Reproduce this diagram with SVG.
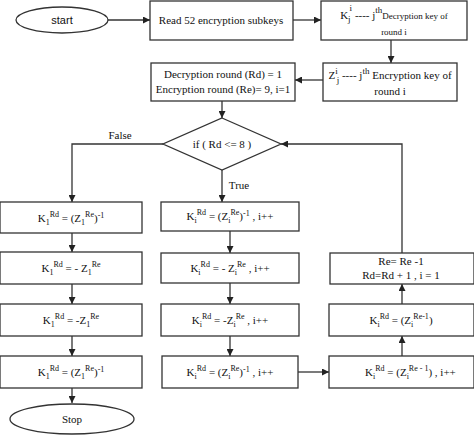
<svg xmlns="http://www.w3.org/2000/svg" width="474" height="435" viewBox="0 0 474 435">
<defs>
<marker id="ah" viewBox="0 0 10 10" refX="10" refY="5" markerWidth="7" markerHeight="7" markerUnits="userSpaceOnUse" orient="auto">
<path d="M0,0 L10,5 L0,10 z" fill="#222"/>
</marker>
<style>
.b{fill:#fff;stroke:#333;stroke-width:1.3}
.c{fill:none;stroke:#333;stroke-width:1.3}
.a{marker-end:url(#ah)}
text{font-family:"Liberation Serif","Times New Roman",serif;font-size:11px;fill:#111;text-anchor:middle}
.sans{font-family:"Liberation Sans",Arial,sans-serif}
.s{font-size:8px}
.sm{font-size:9px}
.st{text-anchor:start}
</style>
</defs>
<rect width="474" height="435" fill="#fff"/>

<g id="connectors">
<line class="c a" x1="108" y1="20" x2="150" y2="20"/>
<line class="c a" x1="293" y1="20" x2="321" y2="20"/>
<line class="c a" x1="391" y1="40" x2="391" y2="63"/>
<line class="c a" x1="323" y1="80" x2="295" y2="80"/>
<line class="c a" x1="222" y1="101" x2="222" y2="118"/>
<polyline class="c a" points="163,144 72,144 72,202"/>
<line class="c a" x1="222" y1="170" x2="222" y2="202"/>
<polyline class="c a" points="402,253 402,144 281,144"/>
<line class="c a" x1="72" y1="233" x2="72" y2="252"/>
<line class="c a" x1="72" y1="284" x2="72" y2="304"/>
<line class="c a" x1="72" y1="336" x2="72" y2="356"/>
<line class="c a" x1="72" y1="388" x2="72" y2="403"/>
<line class="c a" x1="230" y1="231" x2="230" y2="253"/>
<line class="c a" x1="230" y1="283" x2="230" y2="304"/>
<line class="c a" x1="230" y1="336" x2="230" y2="356"/>
<line class="c a" x1="298" y1="372" x2="329" y2="372"/>
<line class="c a" x1="402" y1="356" x2="402" y2="336"/>
<line class="c a" x1="402" y1="304" x2="402" y2="284"/>
<text x="120" y="139">False</text>
<text x="239" y="189">True</text>
</g>

<g id="start">
<ellipse class="b" cx="62" cy="20" rx="46" ry="13"/>
<text class="sans" x="62" y="24">start</text>
</g>

<g id="read">
<rect class="b" x="150" y="1" width="143" height="39"/>
<text x="221" y="24">Read 52  encryption subkeys</text>
</g>

<g id="kdef">
<rect class="b" x="321" y="1" width="146" height="39"/>
<text x="394" y="19">K<tspan class="sm" dy="3">j</tspan><tspan class="sm" dx="-1" dy="-11">i</tspan><tspan dy="8">  ----  j</tspan><tspan class="sm" dy="-6">th</tspan><tspan class="sm" dy="6">Decryption key of</tspan></text>
<text class="sm" x="394" y="35">round i</text>
</g>

<g id="zdef">
<rect class="b" x="323" y="63" width="134" height="38"/>
<text x="390" y="79">Z<tspan class="sm" dy="-5">i</tspan><tspan class="sm" dx="-1" dy="9">j</tspan><tspan dy="-4">  ---- j</tspan><tspan class="sm" dy="-5">th</tspan><tspan dy="5"> Encryption key of</tspan></text>
<text x="390" y="95">round i</text>
</g>

<g id="init">
<rect class="b" x="151" y="63" width="144" height="38"/>
<text x="223" y="78">Decryption round (Rd) = 1</text>
<text x="223" y="93">Encryption round (Re)= 9, i=1</text>
</g>

<g id="cond">
<polygon class="b" points="222,118 281,144 222,170 163,144"/>
<text x="222" y="148">if ( Rd &lt;= 8 )</text>
</g>

<g id="l1">
<rect class="b" x="0" y="202" width="142" height="31"/>
<text x="71" y="222">K<tspan class="s" dy="3">1</tspan><tspan class="s" dy="-8">Rd</tspan><tspan dy="5"> = (Z</tspan><tspan class="s" dy="3">1</tspan><tspan class="s" dy="-8">Re</tspan><tspan dy="5">)</tspan><tspan class="s" dy="-4">-1</tspan></text>
</g>
<g id="l2">
<rect class="b" x="0" y="252" width="142" height="32"/>
<text x="71" y="272">K<tspan class="s" dy="3">1</tspan><tspan class="s" dy="-8">Rd</tspan><tspan dy="5"> = - Z</tspan><tspan class="s" dy="3">1</tspan><tspan class="s" dy="-8">Re</tspan></text>
</g>
<g id="l3">
<rect class="b" x="0" y="304" width="142" height="32"/>
<text x="71" y="324">K<tspan class="s" dy="3">1</tspan><tspan class="s" dy="-8">Rd</tspan><tspan dy="5"> = -Z</tspan><tspan class="s" dy="3">1</tspan><tspan class="s" dy="-8">Re</tspan></text>
</g>
<g id="l4">
<rect class="b" x="0" y="356" width="142" height="32"/>
<text x="71" y="376">K<tspan class="s" dy="3">1</tspan><tspan class="s" dy="-8">Rd</tspan><tspan dy="5"> = (Z</tspan><tspan class="s" dy="3">1</tspan><tspan class="s" dy="-8">Re</tspan><tspan dy="5">)</tspan><tspan class="s" dy="-4">-1</tspan></text>
</g>
<g id="stop">
<ellipse class="b" cx="72" cy="419" rx="62" ry="15"/>
<text x="72" y="423">Stop</text>
</g>

<g id="m1">
<rect class="b" x="161" y="202" width="138" height="29"/>
<text x="230" y="220">K<tspan class="s" dy="3">i</tspan><tspan class="s" dy="-8">Rd</tspan><tspan dy="5"> = (Z</tspan><tspan class="s" dy="3">i</tspan><tspan class="s" dy="-8">Re</tspan><tspan dy="5">)</tspan><tspan class="s" dy="-4">-1</tspan><tspan dy="4">  , i++</tspan></text>
</g>
<g id="m2">
<rect class="b" x="161" y="253" width="138" height="30"/>
<text x="230" y="272">K<tspan class="s" dy="3">i</tspan><tspan class="s" dy="-8">Rd</tspan><tspan dy="5"> = - Z</tspan><tspan class="s" dy="3">i</tspan><tspan class="s" dy="-8">Re</tspan><tspan dy="5">   , i++</tspan></text>
</g>
<g id="m3">
<rect class="b" x="161" y="304" width="138" height="32"/>
<text x="230" y="324">K<tspan class="s" dy="3">i</tspan><tspan class="s" dy="-8">Rd</tspan><tspan dy="5"> = -Z</tspan><tspan class="s" dy="3">i</tspan><tspan class="s" dy="-8">Re</tspan><tspan dy="5">   , i++</tspan></text>
</g>
<g id="m4">
<rect class="b" x="162" y="356" width="136" height="32"/>
<text x="230" y="376">K<tspan class="s" dy="3">i</tspan><tspan class="s" dy="-8">Rd</tspan><tspan dy="5"> = (Z</tspan><tspan class="s" dy="3">i</tspan><tspan class="s" dy="-8">Re</tspan><tspan dy="5">)</tspan><tspan class="s" dy="-4">-1</tspan><tspan dy="4"> , i++</tspan></text>
</g>

<g id="r1">
<rect class="b" x="329" y="356" width="145" height="32"/>
<text class="st" x="365" y="376">K<tspan class="s" dy="3">i</tspan><tspan class="s" dy="-8">Rd</tspan><tspan dy="5"> = (Z</tspan><tspan class="s" dy="3">i</tspan><tspan class="s" dy="-8">Re - 1</tspan><tspan dy="5">)     , i++</tspan></text>
</g>
<g id="r2">
<rect class="b" x="329" y="304" width="145" height="32"/>
<text x="401" y="324">K<tspan class="s" dy="3">i</tspan><tspan class="s" dy="-8">Rd</tspan><tspan dy="5"> = (Z</tspan><tspan class="s" dy="3">i</tspan><tspan class="s" dy="-8">Re-1</tspan><tspan dy="5">)</tspan></text>
</g>
<g id="r3">
<rect class="b" x="330" y="253" width="144" height="31"/>
<text x="401" y="265">Re= Re -1</text>
<text x="401" y="279">Rd=Rd + 1  , i = 1</text>
</g>
</svg>
